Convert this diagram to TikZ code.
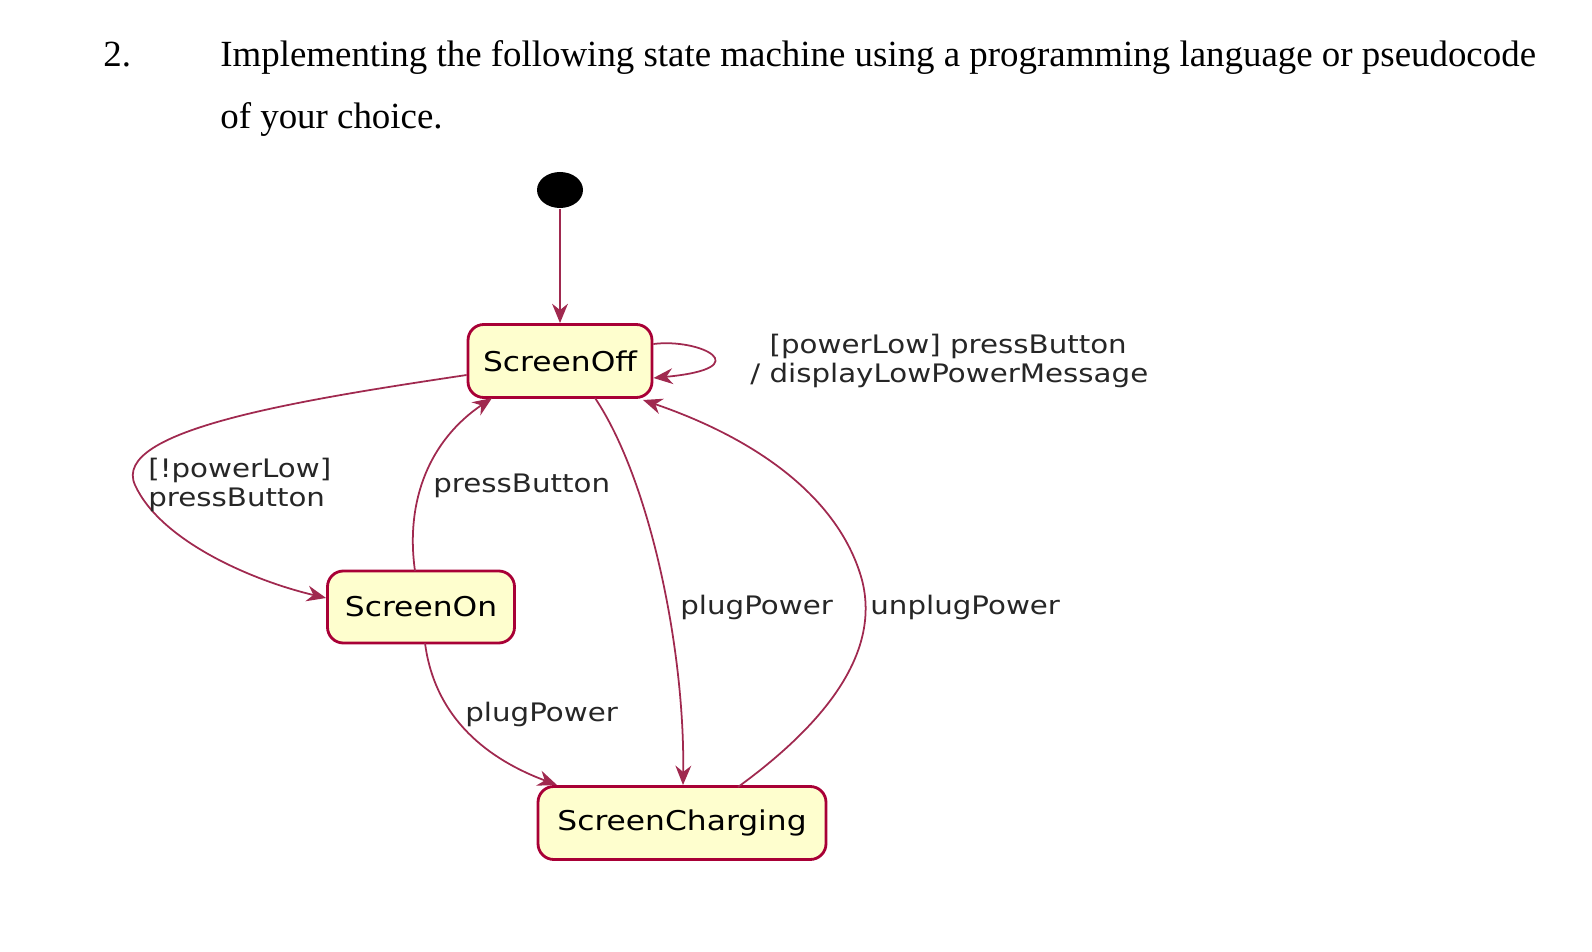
\documentclass[tikz,border=0pt]{standalone}
\usepackage{fontspec}
\setmainfont{Liberation Serif}
\newfontfamily\djfont[FakeStretch=1.15]{DejaVu Sans}
\usetikzlibrary{arrows.meta}
\definecolor{edge}{HTML}{A0294F}
\definecolor{boxfill}{HTML}{FEFECE}
\definecolor{boxline}{HTML}{A80036}
\tikzset{
 state/.style={draw=boxline,line width=1.6pt,fill=boxfill,rounded corners=9pt,font=\djfont\fontsize{15.5}{17}\selectfont,inner sep=0pt},
 tr/.style={draw=edge,line width=1pt,-{Stealth[length=11pt,width=9pt]}},
 lab/.style={font=\djfont\fontsize{14.5}{16}\selectfont,align=left,inner sep=0pt,anchor=west,text=black!85},
 ttl/.style={font=\fontsize{21}{25}\selectfont,anchor=base west,inner sep=0pt}
}
\begin{document}
\begin{tikzpicture}[x=0.02cm,y=-0.02cm]
\useasboundingbox (0,0) rectangle (1592,952);
\node[ttl] (n2) at (103,67) {2.};
\node[ttl] (t1) at (220,67) {Implementing the following state machine using a programming language or pseudocode};
\node[ttl] (t2) at (220,129) {of your choice.};
\fill (560,190) ellipse (23 and 18);
\coordinate (init) at (560,209);
\node[state,minimum width=184*0.02cm,minimum height=73*0.02cm] (off) at (560,361) {ScreenOff};
\node[state,minimum width=187*0.02cm,minimum height=72*0.02cm] (on) at (421,607) {ScreenOn};
\node[state,minimum width=288*0.02cm,minimum height=73*0.02cm] (chg) at (682,823) {ScreenCharging};
\draw[tr] (init) -- (off);
\draw[tr] (off.east|-0,344) .. controls (700,338) and (760,368) .. (off.east|-0,378);
\node[lab] (l1) at (750,361) {\hspace*{11pt}[powerLow] pressButton\\/ displayLowPowerMessage};
\draw[tr] (off.west|-0,375) .. controls (300,400) and (110,430) .. (135,485) .. controls (160,540) and (250,580) .. (on.west|-0,598);
\node[lab] (l2) at (148,485) {[!powerLow]\\pressButton};
\draw[tr] (415,571) .. controls (405,500) and (430,440) .. (492,398);
\node[lab] (l3) at (433,486) {pressButton};
\draw[tr] (595,398) .. controls (650,480) and (685,650) .. (683,785);
\node[lab] (l4) at (680,607) {plugPower};
\draw[tr] (738,787) .. controls (830,720) and (880,650) .. (862,580) .. controls (840,500) and (760,440) .. (643,400);
\node[lab] (l5) at (870,607) {unplugPower};
\draw[tr] (425,643) .. controls (435,720) and (490,760) .. (557,785);
\node[lab] (l6) at (465,714) {plugPower};
\end{tikzpicture}
\end{document}
